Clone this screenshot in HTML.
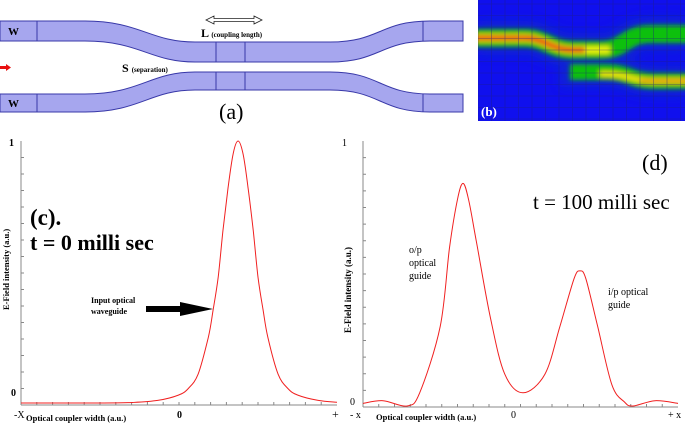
<!DOCTYPE html>
<html><head><meta charset="utf-8"><style>
html,body{margin:0;padding:0;background:#fff;}
svg{display:block;font-family:"Liberation Serif",serif;}
</style></head><body>
<svg id="fig" width="685" height="424" viewBox="0 0 685 424">
<defs>
<filter id="blur" filterUnits="userSpaceOnUse" x="470" y="-10" width="230" height="140"><feGaussianBlur stdDeviation="2.5"/></filter>
<filter id="blur2" filterUnits="userSpaceOnUse" x="470" y="-10" width="230" height="140"><feGaussianBlur stdDeviation="5"/></filter>
<clipPath id="clipB"><rect x="478" y="0" width="207" height="121"/></clipPath>
</defs>
<!-- panel (a) -->
<g>
<path d="M0,21 L85,21 C140,21 150,42 195,42 L330,42 C380,42 380,21 430,21 L463,21 L463,41 L430,41 C380,41 380,62 330,62 L195,62 C150,62 140,41 85,41 L0,41 Z" fill="#a6a6ee" stroke="#3838a8" stroke-width="1"/>
<path d="M0,94 L85,94 C140,94 150,72 195,72 L330,72 C380,72 380,94 430,94 L463,94 L463,112 L430,112 C380,112 380,90 330,90 L195,90 C150,90 140,112 85,112 L0,112 Z" fill="#a6a6ee" stroke="#3838a8" stroke-width="1"/>
<g stroke="#3838a8" stroke-width="1">
<line x1="37" y1="21" x2="37" y2="41"/><line x1="37" y1="94" x2="37" y2="112"/>
<line x1="216" y1="42" x2="216" y2="62"/><line x1="245" y1="42" x2="245" y2="62"/>
<line x1="216" y1="72" x2="216" y2="90"/><line x1="245" y1="72" x2="245" y2="90"/>
<line x1="423" y1="21" x2="423" y2="41"/><line x1="423" y1="94" x2="423" y2="112"/>
</g>
<text x="8" y="35" font-size="11" font-weight="bold">W</text>
<text x="8" y="107" font-size="11" font-weight="bold">W</text>
<path d="M206,20 L214,16 L214,18.5 L254,18.5 L254,16 L262,20 L254,24 L254,21.5 L214,21.5 L214,24 Z" fill="#fff" stroke="#222" stroke-width="0.8"/>
<text x="201" y="37" font-size="12" font-weight="bold">L <tspan font-size="7">(coupling length)</tspan></text>
<text x="122" y="72" font-size="12" font-weight="bold">S <tspan font-size="7">(separation)</tspan></text>
<path d="M0,66 L6,66 L6,64 L11,67.5 L6,71 L6,69 L0,69 Z" fill="#e81010"/>
<text x="219" y="119" font-size="22">(a)</text>
</g>
<!-- panel (b) -->
<g clip-path="url(#clipB)">
<rect x="478" y="0" width="207" height="121" fill="#1010ee"/>
<g filter="url(#blur2)" fill="none" opacity="0.6">
<path d="M478,38 L525,38 C545,38 550,50 575,50 L600,50 C625,50 625,34 650,34 L685,34" stroke="#0830c0" stroke-width="34"/>
<path d="M560,72 L605,72 C630,72 630,81 655,81 L685,81" stroke="#0830c0" stroke-width="30"/>
</g>
<g filter="url(#blur)" fill="none" stroke-linecap="butt">
<path d="M470,38 L525,38 C545,38 550,50 575,50 L600,50 C625,50 625,34 650,34 L695,34" stroke="#10c010" stroke-width="18"/>
<path d="M570,72 L605,72 C630,72 630,81 655,81 L695,81" stroke="#10c010" stroke-width="16"/>
<path d="M470,38 L525,38 C545,38 550,50 575,50 L610,50" stroke="#e8f010" stroke-width="8"/>
<path d="M600,74 C630,74 630,81 655,81 L695,81" stroke="#e8e010" stroke-width="6"/>
<path d="M470,38 L525,38 C545,38 550,50 575,50 L585,50" stroke="#f01010" stroke-width="5"/>
<path d="M640,81 L695,81" stroke="#f08010" stroke-width="3"/>
</g>
<g id="gridB" stroke="#202080" stroke-width="0.6" opacity="0.6"></g>
<text x="481" y="116" font-size="13" font-weight="bold" fill="#fff">(b)</text>
</g>
<!-- panel (c) -->
<g id="chartC">
<line x1="21" y1="141" x2="21" y2="405" stroke="#888"/>
<line x1="21" y1="405" x2="337" y2="405" stroke="#888"/>
<text x="9" y="146" font-size="10" font-weight="bold">1</text>
<text x="11" y="396" font-size="10" font-weight="bold">0</text>
<text x="14" y="418" font-size="10">-X</text>
<text x="177" y="418" font-size="10" font-weight="bold">0</text>
<text x="332" y="418" font-size="12">+</text>
<text x="26" y="421" font-size="8.5" font-weight="bold">Optical coupler width (a.u.)</text>
<text transform="translate(9,310) rotate(-90)" font-size="8.5" font-weight="bold">E-Field intensity (a.u.)</text>
<text x="30" y="225" font-size="23" font-weight="bold">(c).</text>
<text x="30" y="250" font-size="22" font-weight="bold">t = 0 milli sec</text>
<text x="91" y="303" font-size="8" font-weight="bold">Input optical</text>
<text x="91" y="314" font-size="8" font-weight="bold">waveguide</text>
<path d="M146,306 L180,306 L180,302 L213,309 L180,316 L180,312 L146,312 Z" fill="#000"/>
</g>
<!-- panel (d) -->
<g id="chartD">
<line x1="363" y1="141" x2="363" y2="407" stroke="#888"/>
<line x1="363" y1="407" x2="678" y2="407" stroke="#888"/>
<text x="342" y="146" font-size="10">1</text>
<text x="350" y="405" font-size="10">0</text>
<text x="350" y="418" font-size="10">- x</text>
<text x="511" y="418" font-size="10">0</text>
<text x="668" y="418" font-size="10">+ x</text>
<text x="376" y="420" font-size="8.5" font-weight="bold">Optical coupler width (a.u.)</text>
<text transform="translate(351,333) rotate(-90)" font-size="9" font-weight="bold">E-Field intensity (a.u.)</text>
<text x="642" y="170" font-size="22">(d)</text>
<text x="533" y="209" font-size="21">t = 100 milli sec</text>
<text x="409" y="253" font-size="10">o/p</text>
<text x="409" y="266" font-size="10">optical</text>
<text x="409" y="279" font-size="10">guide</text>
<text x="608" y="295" font-size="10">i/p optical</text>
<text x="608" y="308" font-size="10">guide</text>
</g>
</svg>
<script>
// chart (c) data
const cX = [-1, -0.5, -0.3, -0.14, -0.01, 0.052, 0.115, 0.18, 0.211, 0.243, 0.274, 0.306, 0.338, 0.37, 0.402, 0.434, 0.466, 0.497, 0.529, 0.56, 0.625, 0.688, 0.75, 0.88, 1];
const cVal = [0, 0, 0.002, 0.01, 0.03, 0.055, 0.11, 0.25, 0.355, 0.48, 0.66, 0.82, 0.95, 1, 0.95, 0.82, 0.66, 0.48, 0.355, 0.25, 0.11, 0.055, 0.03, 0.01, 0.003];
// chart (d) data
const dX = [-1, -0.873, -0.72, -0.64, -0.51, -0.45, -0.40, -0.365, -0.33, -0.28, -0.19, -0.1, 0.016, 0.155, 0.25, 0.34, 0.378, 0.415, 0.49, 0.58, 0.66, 0.714, 0.854, 1];
const dVal = [0.01, 0.02, 0, 0.05, 0.3, 0.6, 0.78, 0.84, 0.78, 0.62, 0.33, 0.12, 0.05, 0.12, 0.3, 0.48, 0.51, 0.48, 0.3, 0.08, 0.015, 0, 0.02, 0.01];

const NS = "http://www.w3.org/2000/svg";
function lin(d0, d1, r0, r1){ return v => r0 + (v - d0) / (d1 - d0) * (r1 - r0); }

function smoothPath(pts){
  let d = "M" + pts[0][0].toFixed(1) + "," + pts[0][1].toFixed(1);
  for (let i = 0; i < pts.length - 1; i++){
    const p0 = pts[i-1] || pts[i], p1 = pts[i], p2 = pts[i+1], p3 = pts[i+2] || p2;
    const c1x = p1[0] + (p2[0]-p0[0])/6, c1y = p1[1] + (p2[1]-p0[1])/6;
    const c2x = p2[0] - (p3[0]-p1[0])/6, c2y = p2[1] - (p3[1]-p1[1])/6;
    d += " C" + c1x.toFixed(1)+","+c1y.toFixed(1)+" "+c2x.toFixed(1)+","+c2y.toFixed(1)+" "+p2[0].toFixed(1)+","+p2[1].toFixed(1);
  }
  return d;
}

function drawTicks(g, x0, x1, y0, y1, nx, ny){
  for (let i = 1; i < ny; i++){
    const l = document.createElementNS(NS, "line");
    const y = y1 + (y0 - y1) * i / ny;
    l.setAttribute("x1", x0); l.setAttribute("x2", x0 + 3);
    l.setAttribute("y1", y); l.setAttribute("y2", y);
    l.setAttribute("stroke", "#888");
    
    
    g.appendChild(l);
  }
  for (let i = 1; i < nx; i++){
    const l = document.createElementNS(NS, "line");
    const x = x0 + (x1 - x0) * i / nx;
    l.setAttribute("x1", x); l.setAttribute("x2", x);
    l.setAttribute("y1", y1); l.setAttribute("y2", y1 - 3);
    l.setAttribute("stroke", "#888");
    
    
    g.appendChild(l);
  }
}

function drawCurve(g, xs, vs, xScale, yScale, name){
  const pts = xs.map((x, i) => [xScale(x), yScale(vs[i])]);
  const p = document.createElementNS(NS, "path");
  p.setAttribute("d", smoothPath(pts));
  p.setAttribute("fill", "none");
  p.setAttribute("stroke", "#f02020");
  p.setAttribute("stroke-width", "1");
  
  
  g.appendChild(p);
}

const gC = document.getElementById("chartC");
drawTicks(gC, 21, 337, 141, 405, 20, 16);
const cxScale = x => x < 0 ? lin(-1, 0, 21, 180)(x) : lin(0, 1, 180, 337)(x);
drawCurve(gC, cX, cVal, cxScale, lin(0, 1, 403, 141), "c-field-curve");

const gD = document.getElementById("chartD");
drawTicks(gD, 363, 678, 141, 407, 20, 16);
drawCurve(gD, dX, dVal, lin(-1, 1, 363, 678), lin(0, 1, 406, 141), "d-field-curve");

// grid in panel (b)
const gB = document.getElementById("gridB");
for (let x = 478; x <= 685; x += 13.5){
  const l = document.createElementNS(NS, "line");
  l.setAttribute("x1", x); l.setAttribute("x2", x); l.setAttribute("y1", 0); l.setAttribute("y2", 121);
  
  
  gB.appendChild(l);
}
for (let y = 4; y <= 121; y += 11.5){
  const l = document.createElementNS(NS, "line");
  l.setAttribute("x1", 478); l.setAttribute("x2", 685); l.setAttribute("y1", y); l.setAttribute("y2", y);
  
  
  gB.appendChild(l);
}
</script>
</body></html>
